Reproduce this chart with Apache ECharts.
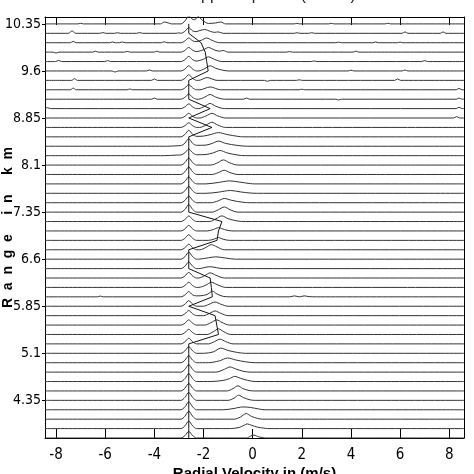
<!DOCTYPE html>
<html><head><meta charset="utf-8">
<script src="https://cdn.jsdelivr.net/npm/echarts@6/dist/echarts.min.js"></script>
<style>html,body{margin:0;padding:0;background:#fff}#c{width:474px;height:474px}</style>
</head><body><div id="c"></div>
<script>
// Range of each spectrum baseline (km)
const rangeKm = [3.75,3.9,4.05,4.2,4.35,4.5,4.65,4.8,4.95,5.1,5.25,5.4,5.55,5.7,5.85,6.0,6.15,6.3,6.45,6.6,6.75,6.9,7.05,7.2,7.35,7.5,7.65,7.8,7.95,8.1,8.25,8.4,8.55,8.7,8.85,9.0,9.15,9.3,9.45,9.6,9.75,9.9,10.05,10.2,10.35];
// Velocity axis extent (m/s)
const velMin = -8.45, velMax = 8.6;
// Normalised spectral amplitude features [velocity m/s, amplitude] per range gate (bottom to top)
const spectra = [
 [[-2.92,0],[-2.76,0.25],[-2.6,0.7],[-2.44,0.25],[-2.28,0],[-0.25,0],[-0.1,0.18],[0.05,0.3],[0.25,0.12],[0.5,0]],
 [[-2.92,0],[-2.76,0.28],[-2.6,0.8],[-2.44,0.28],[-2.28,0],[-0.9,0],[-0.55,0.12],[-0.35,0.35],[-0.22,0.5],[-0.05,0.35],[0.2,0.15],[0.45,0.05],[0.6,0]],
 [[-2.92,0],[-2.76,0.3],[-2.6,0.85],[-2.44,0.3],[-2.28,0],[-0.75,0],[-0.5,0.22],[-0.26,0.6],[-0.05,0.3],[0.2,0.08],[0.4,0]],
 [[-2.92,0],[-2.76,0.3],[-2.6,0.85],[-2.44,0.3],[-2.28,0],[-1.2,0],[-0.8,0.12],[-0.4,0.3],[-0.1,0.25],[0.25,0.08],[0.5,0]],
 [[-2.92,0],[-2.76,0.3],[-2.6,0.85],[-2.44,0.3],[-2.28,0],[-1.0,0],[-0.75,0.25],[-0.57,0.55],[-0.38,0.3],[-0.1,0.05],[0.1,0]],
 [[-2.92,0],[-2.76,0.28],[-2.6,0.8],[-2.44,0.28],[-2.28,0],[-1.05,0],[-0.8,0.25],[-0.6,0.55],[-0.4,0.25],[-0.15,0.05],[0.05,0]],
 [[-2.92,0],[-2.76,0.3],[-2.6,0.85],[-2.44,0.3],[-2.28,0],[-1.7,0],[-1.2,0.12],[-0.95,0.3],[-0.73,0.55],[-0.5,0.35],[-0.2,0.12],[0.1,0]],
 [[-2.92,0],[-2.76,0.28],[-2.6,0.8],[-2.44,0.28],[-2.28,0],[-1.5,0],[-1.15,0.3],[-0.92,0.55],[-0.7,0.35],[-0.4,0.1],[-0.1,0]],
 [[-2.92,0],[-2.76,0.26],[-2.6,0.75],[-2.44,0.26],[-2.28,0],[-1.8,0],[-1.35,0.2],[-1.02,0.5],[-0.7,0.3],[-0.3,0.1],[0.1,0]],
 [[-2.92,0],[-2.76,0.25],[-2.6,0.7],[-2.44,0.25],[-2.28,0],[-2.0,0],[-1.6,0.15],[-1.3,0.55],[-1.0,0.3],[-0.6,0.08],[-0.3,0]],
 [[-2.92,0],[-2.76,0.21],[-2.6,0.6],[-2.44,0.21],[-2.28,0],[-1.8,0],[-1.55,0.25],[-1.32,0.5],[-1.1,0.25],[-0.8,0]],
 [[-2.92,0],[-2.76,0.19],[-2.6,0.55],[-2.44,0.19],[-2.28,0],[-1.85,0],[-1.6,0.3],[-1.39,0.6],[-1.18,0.3],[-0.9,0]],
 [[-2.92,0],[-2.76,0.19],[-2.6,0.55],[-2.44,0.19],[-2.28,0],[-1.95,0],[-1.7,0.25],[-1.46,0.55],[-1.25,0.28],[-0.95,0]],
 [[-2.92,0],[-2.76,0.19],[-2.6,0.55],[-2.44,0.19],[-2.28,0],[-2.0,0],[-1.75,0.25],[-1.53,0.5],[-1.3,0.25],[-1.0,0]],
 [[-2.92,0],[-2.76,0.21],[-2.6,0.6],[-2.44,0.21],[-2.28,0],[-2.0,0],[-1.78,0.2],[-1.53,0.45],[-1.3,0.22],[-1.0,0]],
 [[-6.32,0],[-6.2,0.08],[-6.08,0],[-2.92,0],[-2.76,0.19],[-2.6,0.55],[-2.44,0.2],[-2.28,0.1],[-2.0,0.15],[-1.82,0.3],[-1.64,0.6],[-1.45,0.3],[-1.2,0.05],[-0.9,0],[1.5,0],[1.7,0.1],[1.9,0],[2.1,0.1],[2.3,0.02],[2.6,0]],
 [[-2.92,0],[-2.76,0.19],[-2.6,0.55],[-2.44,0.19],[-2.28,0],[-2.2,0],[-1.9,0.25],[-1.68,0.55],[-1.45,0.3],[-1.1,0]],
 [[-2.92,0],[-2.76,0.21],[-2.6,0.6],[-2.44,0.21],[-2.28,0],[-2.2,0],[-1.95,0.25],[-1.73,0.55],[-1.5,0.3],[-1.15,0]],
 [[-2.92,0],[-2.76,0.25],[-2.6,0.7],[-2.44,0.25],[-2.28,0],[-2.2,0],[-1.75,0.2],[-1.2,0]],
 [[-2.92,0],[-2.76,0.26],[-2.6,0.75],[-2.44,0.26],[-2.28,0],[-2.2,0],[-1.8,0.15],[-1.5,0.25],[-1.1,0.12],[-0.7,0]],
 [[-2.92,0],[-2.76,0.21],[-2.6,0.6],[-2.44,0.21],[-2.28,0],[-2.15,0],[-1.9,0.25],[-1.68,0.55],[-1.45,0.3],[-1.15,0]],
 [[-2.92,0],[-2.76,0.21],[-2.6,0.6],[-2.44,0.21],[-2.28,0],[-1.8,0],[-1.55,0.15],[-1.4,0.3],[-1.2,0.12],[-0.95,0]],
 [[-2.92,0],[-2.76,0.21],[-2.6,0.6],[-2.44,0.21],[-2.28,0],[-1.85,0],[-1.6,0.15],[-1.39,0.35],[-1.15,0.15],[-0.85,0]],
 [[-2.92,0],[-2.76,0.21],[-2.6,0.6],[-2.44,0.21],[-2.28,0],[-1.75,0],[-1.5,0.28],[-1.25,0.6],[-1.0,0.3],[-0.6,0.05],[-0.3,0]],
 [[-2.92,0],[-2.76,0.28],[-2.6,0.8],[-2.44,0.28],[-2.28,0],[-1.65,0],[-1.4,0.25],[-1.15,0.55],[-0.92,0.25],[-0.6,0]],
 [[-2.92,0],[-2.76,0.25],[-2.6,0.7],[-2.44,0.25],[-2.28,0],[-1.7,0],[-1.4,0.2],[-1.15,0.45],[-0.85,0.25],[-0.4,0.05],[-0.1,0]],
 [[-2.92,0],[-2.76,0.26],[-2.6,0.75],[-2.44,0.26],[-2.28,0],[-1.9,0],[-1.4,0.12],[-0.9,0.3],[-0.5,0.15],[-0.1,0.03],[0.2,0]],
 [[-2.92,0],[-2.76,0.26],[-2.6,0.75],[-2.44,0.26],[-2.28,0],[-1.9,0],[-1.4,0.15],[-0.95,0.32],[-0.55,0.2],[-0.1,0.03],[0.1,0]],
 [[-2.92,0],[-2.76,0.28],[-2.6,0.8],[-2.44,0.28],[-2.28,0],[-1.65,0],[-1.4,0.2],[-1.16,0.45],[-0.92,0.2],[-0.6,0]],
 [[-2.92,0],[-2.76,0.26],[-2.6,0.75],[-2.44,0.26],[-2.28,0],[-1.7,0],[-1.42,0.25],[-1.19,0.55],[-0.95,0.25],[-0.6,0]],
 [[-3.6,0],[-3.1,0.06],[-2.92,0.08],[-2.76,0.3],[-2.6,0.7],[-2.44,0.3],[-2.28,0.1],[-1.9,0.12],[-1.6,0.3],[-1.32,0.55],[-1.05,0.3],[-0.6,0.06],[-0.3,0]],
 [[-3.5,0],[-3.0,0.06],[-2.9,0.08],[-2.76,0.32],[-2.6,0.8],[-2.44,0.3],[-2.28,0.1],[-1.9,0.12],[-1.65,0.3],[-1.39,0.55],[-1.1,0.3],[-0.6,0.08],[-0.2,0]],
 [[-2.92,0],[-2.76,0.25],[-2.6,0.7],[-2.44,0.25],[-2.28,0.05],[-2.0,0.08],[-1.7,0.25],[-1.39,0.45],[-1.05,0.25],[-0.6,0.05],[-0.4,0]],
 [[-2.92,0],[-2.76,0.18],[-2.6,0.5],[-2.44,0.18],[-2.28,0],[-2.15,0],[-1.9,0.25],[-1.66,0.55],[-1.42,0.25],[-1.1,0]],
 [[-2.92,0],[-2.76,0.18],[-2.6,0.5],[-2.44,0.18],[-2.28,0],[-2.15,0],[-1.9,0.22],[-1.66,0.5],[-1.42,0.22],[-1.1,0],[8.18,0],[8.3,0.15],[8.42,0]],
 [[-8.45,0],[-8.35,0.1],[-8.23,0],[-2.92,0],[-2.76,0.18],[-2.6,0.5],[-2.44,0.18],[-2.28,0],[-2.2,0],[-1.95,0.25],[-1.73,0.55],[-1.5,0.25],[-1.15,0],[8.28,0],[8.4,0.15],[8.52,0]],
 [[-4.12,0],[-4.0,0.12],[-3.88,0],[-2.92,0],[-2.76,0.19],[-2.6,0.55],[-2.44,0.19],[-2.28,0],[-2.2,0],[-1.95,0.22],[-1.73,0.5],[-1.5,0.22],[-1.15,0],[-0.37,0],[-0.25,0.12],[-0.13,0],[3.38,0],[3.5,-0.08],[3.62,0],[8.28,0],[8.4,0.12],[8.52,0]],
 [[-7.42,0],[-7.3,0.18],[-7.18,0],[-5.12,0],[-5.0,0.08],[-4.88,0],[-2.92,0],[-2.76,0.19],[-2.6,0.55],[-2.44,0.19],[-2.28,0],[-2.15,0],[-1.73,0.3],[-1.3,0],[1.88,0],[2.0,0.06],[2.12,0],[8.28,0],[8.4,0.15],[8.52,0]],
 [[-7.37,0],[-7.25,0.18],[-7.13,0],[-4.12,0],[-4.0,0.15],[-3.88,0],[-2.92,0],[-2.76,0.21],[-2.6,0.6],[-2.44,0.21],[-2.28,0],[-2.2,0],[-1.85,0.3],[-1.45,0],[0.48,0],[0.6,-0.1],[0.72,0],[1.78,0],[1.9,0.06],[2.02,0],[5.78,0],[5.9,0.15],[6.02,0]],
 [[-5.72,0],[-5.6,-0.12],[-5.48,0],[-4.32,0],[-4.2,0.1],[-4.08,0],[-2.92,0],[-2.76,0.19],[-2.6,0.55],[-2.44,0.19],[-2.28,0],[-2.2,0],[-1.95,0.25],[-1.73,0.55],[-1.5,0.28],[-1.25,0.1],[-1.0,0],[3.88,0],[4.0,0.08],[4.12,0],[6.08,0],[6.2,0.1],[6.32,0]],
 [[-8.02,0],[-7.9,0.12],[-7.78,0],[-6.02,0],[-5.9,0.1],[-5.78,0],[-2.92,0],[-2.76,0.19],[-2.6,0.55],[-2.44,0.2],[-2.3,0.05],[-2.0,0.25],[-1.8,0.5],[-1.55,0.22],[-1.25,0],[2.38,0],[2.5,0.06],[2.62,0],[6.88,0],[7.0,0.1],[7.12,0]],
 [[-8.12,0],[-8.0,-0.1],[-7.88,0],[-6.52,0],[-6.4,0.1],[-6.28,0],[-5.22,0],[-5.1,0.08],[-4.98,0],[-4.02,0],[-3.9,0.1],[-3.78,0],[-2.92,0],[-2.76,0.18],[-2.6,0.5],[-2.44,0.2],[-2.3,0.06],[-2.0,0.25],[-1.8,0.5],[-1.55,0.22],[-1.35,0.1],[-1.2,0.18],[-1.0,0],[1.38,0],[1.5,0.06],[1.62,0],[4.08,0],[4.2,0.1],[4.32,0]],
 [[-7.42,0],[-7.3,0.15],[-7.18,0],[-5.82,0],[-5.7,0.08],[-5.58,0],[-5.42,0],[-5.3,0.08],[-5.18,0],[-3.72,0],[-3.6,0.1],[-3.48,0],[-2.92,0],[-2.76,0.18],[-2.6,0.5],[-2.44,0.2],[-2.3,0.12],[-2.1,0.25],[-1.87,0.5],[-1.65,0.25],[-1.35,0],[3.38,0],[3.5,0.06],[3.62,0],[4.88,0],[5.0,0.08],[5.12,0],[5.88,0],[6.0,0.06],[6.12,0]],
 [[-7.5,0],[-7.35,0.25],[-7.2,0],[-6.22,0],[-6.1,0.08],[-5.98,0],[-5.62,0],[-5.5,0.06],[-5.38,0],[-4.72,0],[-4.6,0.08],[-4.48,0],[-3.12,0],[-3.0,0.05],[-2.92,0],[-2.76,0.21],[-2.6,0.6],[-2.44,0.25],[-2.3,0.18],[-2.15,0.3],[-1.95,0.4],[-1.72,0.2],[-1.55,0.1],[-1.4,0.15],[-1.2,0],[1.68,0],[1.8,0.06],[1.92,0],[2.28,0],[2.4,0.06],[2.52,0],[6.08,0],[6.2,0.15],[6.32,0],[7.63,0],[7.75,0.15],[7.87,0]],
 [[-7.12,0],[-7.0,0.06],[-6.88,0],[-3.75,0],[-3.6,0.2],[-3.45,0.12],[-3.3,0],[-2.92,0],[-2.76,0.3],[-2.6,0.85],[-2.45,0.5],[-2.35,0.45],[-2.22,0.8],[-2.05,0.4],[-1.8,0.05],[-1.5,0.1],[-1.3,0.2],[-1.1,0],[1.68,0],[1.8,0.06],[1.92,0],[3.08,0],[3.2,0.05],[3.32,0],[5.38,0],[5.5,0.06],[5.62,0]]
];
// Velocity of the tracked spectral peak at each range gate (m/s)
const peakVel = [-2.6,-2.6,-2.6,-2.6,-2.6,-2.6,-2.6,-2.6,-2.6,-2.6,-2.6,-1.39,-1.46,-1.53,-2.6,-1.64,-1.68,-1.73,-2.6,-2.6,-2.6,-1.45,-1.39,-1.25,-2.6,-2.6,-2.6,-2.6,-2.6,-2.6,-2.6,-2.6,-2.6,-1.66,-2.6,-1.73,-2.6,-2.6,-2.6,-1.81,-1.87,-1.93,-2.1,-2.6,-2.6];
const xTicks = [-8,-6,-4,-2,0,2,4,6,8];
const yTicks = [4.35,5.1,5.85,6.6,7.35,8.1,8.85,9.6,10.35];
const gain = 0.15; // km of offset per unit amplitude (trace spacing)

const series = spectra.map((pts, i) => {
  const r = rangeKm[i];
  const d = [[velMin, r]];
  pts.slice().sort((a,b)=>a[0]-b[0]).forEach(p => { if (p[0] > velMin && p[0] < velMax) d.push([p[0], r + p[1]*gain]); });
  d.push([velMax, r]);
  return {type:'line', data:d, symbol:'none', smooth:0.3, lineStyle:{color:'#333', width:1}, silent:true, z:2};
});
series.push({type:'line', data: peakVel.map((v,i)=>[v, rangeKm[i]]), symbol:'none', lineStyle:{color:'#111', width:1}, silent:true, z:3});

const numFont = "'Liberation Sans Narrow','DejaVu Sans Condensed','Arial Narrow',sans-serif";
const chart = echarts.init(document.getElementById('c'), null, {renderer:'canvas'});
chart.setOption({
  animation:false,
  backgroundColor:'#fff',
  title:{text:'Stacked Doppler Spectra (Zenith)', left:'center', top:-17, textStyle:{fontSize:16, fontWeight:'normal', color:'#222', fontFamily:'Liberation Sans, Arial, sans-serif'}},
  grid:{left:45, right:10, top:17, bottom:36, containLabel:false, outerBoundsMode:'none'},
  xAxis:[{
    type:'value', min:velMin, max:velMax, position:'bottom',
    axisLine:{show:true, onZero:false, lineStyle:{color:'#000', width:1}},
    axisTick:{show:true, inside:true, length:9, customValues:xTicks, lineStyle:{color:'#000'}},
    axisLabel:{show:true, customValues:xTicks, margin:10, fontSize:15, color:'#000', fontFamily:numFont},
    splitLine:{show:false},
    name:'Radial Velocity in (m/s)', nameLocation:'middle', nameGap:28, nameMoveOverlap:false,
    nameTextStyle:{fontSize:15, fontWeight:'bold', color:'#000', fontFamily:'Liberation Sans, Arial, sans-serif'}
  },{
    type:'value', min:velMin, max:velMax, position:'top',
    axisLine:{show:true, onZero:false, lineStyle:{color:'#000', width:1}},
    axisTick:{show:true, inside:true, length:8, customValues:xTicks, lineStyle:{color:'#000'}},
    axisLabel:{show:false}, splitLine:{show:false}
  }],
  yAxis:[{
    type:'value', min:3.75, max:10.46, position:'left',
    axisLine:{show:true, onZero:false, lineStyle:{color:'#000', width:1}},
    axisTick:{show:true, inside:false, length:3, customValues:yTicks, lineStyle:{color:'#000'}},
    axisLabel:{show:true, customValues:yTicks, margin:4, fontSize:14, color:'#000', fontFamily:numFont},
    splitLine:{show:false},
    name:'R  a  n  g  e     i  n     k  m', nameLocation:'middle', nameGap:30, nameRotate:90, nameMoveOverlap:false,
    nameTextStyle:{fontSize:14, fontWeight:'bold', color:'#000', fontFamily:'Liberation Sans, Arial, sans-serif'}
  },{
    type:'value', min:3.75, max:10.46, position:'right',
    axisLine:{show:true, onZero:false, lineStyle:{color:'#000', width:1}},
    axisTick:{show:false}, axisLabel:{show:false}, splitLine:{show:false}
  }],
  series: series
});
</script></body></html>
